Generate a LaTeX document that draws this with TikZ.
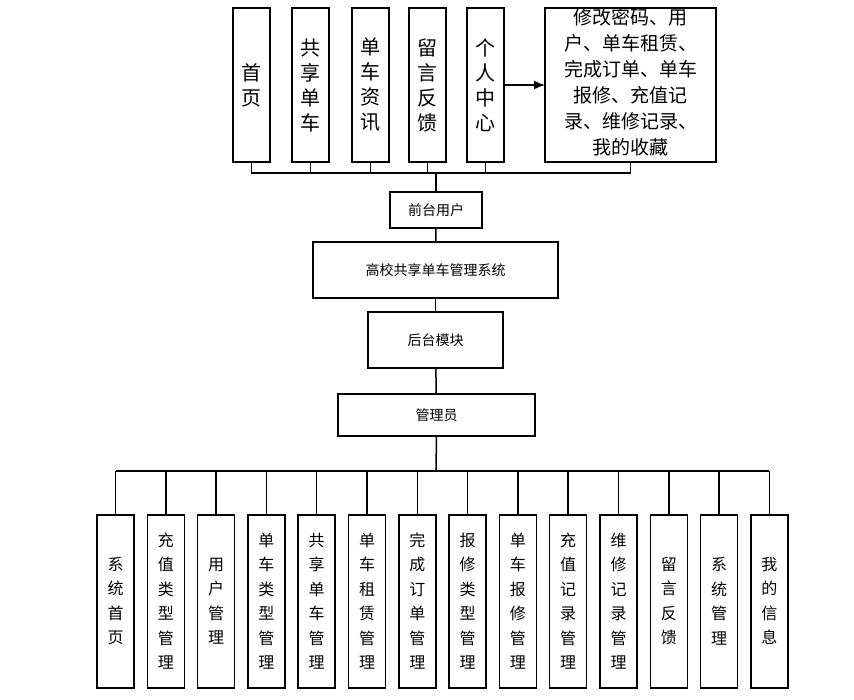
\documentclass[tikz,border=0pt]{standalone}
\usepackage{fontspec}
\usetikzlibrary{arrows.meta}
\newfontfamily\cjk{Noto Sans CJK SC}
\begin{document}
\begin{tikzpicture}[x=1pt,y=-1pt,
  bx/.style={draw,line width=1.5pt,inner sep=0pt,font=\cjk},
  ln/.style={line width=1.5pt},
  vt/.style={align=center,font=\cjk\fontsize{20}{25}\selectfont},
  vb/.style={align=center,font=\cjk\fontsize{16}{24.5}\selectfont}]
\useasboundingbox (0,0) rectangle (854,699);
% top boxes
\foreach \n/\x/\t in {a/233/首\\页, b/292/共\\享\\单\\车, c/352/单\\车\\资\\讯, d/409/留\\言\\反\\馈, e/467/个\\人\\中\\心}{
  \draw[line width=1.5pt] (\x,8) rectangle ++(37,154);
  \node[vt] (\n) at (\x+18.5,85) {\t};
  \coordinate (\n b) at (\x+18.5,162);
}
\draw[line width=1.5pt] (545,8) rectangle (716,162);
\node[vt,font=\cjk\fontsize{19}{26}\selectfont] (f) at (630.5,82) {修改密码、用\\户、单车租赁、\\完成订单、单车\\报修、充值记\\录、维修记录、\\我的收藏};
\coordinate (fb) at (630.5,162);
\draw[ln,-{Latex[length=11pt,width=9pt]}] (504,85) -- (545,85);
\foreach \n in {a,b,c,d,e,f}{ \draw[ln] (\n b) -- (\n b |- 0,173); }
\draw[ln] (251,173) -- (630.5,173);
\node[bx,minimum width=92,minimum height=36,font=\cjk\fontsize{14}{16}\selectfont] (qt) at (436,210) {前台用户};
\node[bx,minimum width=245,minimum height=56,font=\cjk\fontsize{14}{16}\selectfont] (gx) at (435.5,270) {高校共享单车管理系统};
\node[bx,minimum width=135,minimum height=56,font=\cjk\fontsize{14}{16}\selectfont] (ht) at (435.5,340) {后台模块};
\node[bx,minimum width=197,minimum height=42,font=\cjk\fontsize{14}{16}\selectfont] (gl) at (436.5,415) {管理员};
\draw[line width=2pt] (436,173) -- (qt.north);
\draw[ln] (qt) -- (gx);
\draw[ln] (gx) -- (ht);
\draw[ln] (ht) -- (gl);
\coordinate (bus) at (436,471);
\draw[ln] (gl.south) -- (bus);
\draw[ln] (115.5,471) -- (769,471);
\foreach \t [count=\i from 0] in {系\\统\\首\\页, 充\\值\\类\\型\\管\\理, 用\\户\\管\\理, 单\\车\\类\\型\\管\\理, 共\\享\\单\\车\\管\\理, 单\\车\\租\\赁\\管\\理, 完\\成\\订\\单\\管\\理, 报\\修\\类\\型\\管\\理, 单\\车\\报\\修\\管\\理, 充\\值\\记\\录\\管\\理, 维\\修\\记\\录\\管\\理, 留\\言\\反\\馈, 系\\统\\管\\理, 我\\的\\信\\息}{
  \pgfmathsetmacro\cx{115.5+50.3*\i}
  \draw[line width=1.5pt] (\cx-18.5,515) rectangle (\cx+18.5,688);
  \node[vb] (m\i) at (\cx,601) {\t};
  \draw[ln] (\cx,471) -- (\cx,515);
}
\end{tikzpicture}
\end{document}
